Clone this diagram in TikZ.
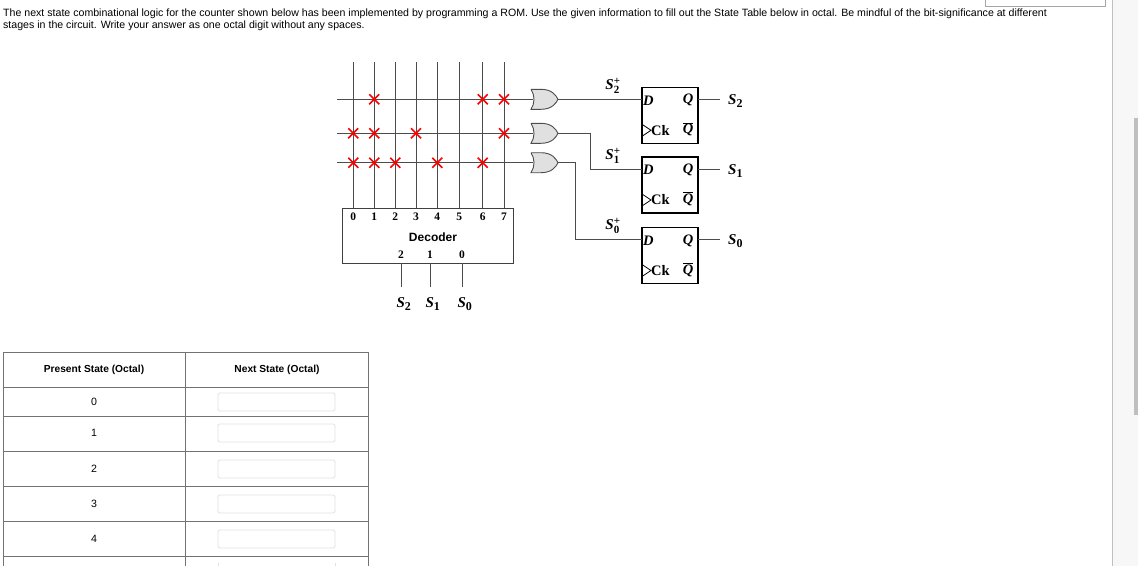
\documentclass[tikz,border=0pt]{standalone}
\usepackage{fontspec}
\setmainfont{Liberation Sans}
\newfontfamily\serifb{Liberation Serif}
\begin{document}
\begin{tikzpicture}[x=1pt,y=-1pt,
  wire/.style={draw=black!70,line width=0.9pt},
  xmark/.style={draw=red,line width=1.6pt},
  ffbox/.style={draw=black,line width=1.2pt,minimum width=56pt,minimum height=56pt,inner sep=0pt},
  cell/.style={draw=black!55,line width=0.8pt},
  inbox/.style={draw=black!12,rounded corners=1.5pt,line width=0.8pt},
  txt/.style={font=\fontsize{10.6}{12}\selectfont,inner sep=0pt},
  sv/.style={font=\serifb\bfseries\itshape\fontsize{15}{16}\selectfont,inner sep=0pt},
  ffl/.style={font=\serifb\bfseries\itshape\fontsize{14.5}{14}\selectfont,inner sep=0pt},
  dnum/.style={font=\serifb\bfseries\fontsize{11.5}{12}\selectfont,inner sep=0pt}]
\useasboundingbox (0,0) rectangle (1138,566);
% top-right and scrollbar
\draw[black!35] (985,0) -- (985,6) -- (1105,6) -- (1105,0);
\fill[black!3] (1112,0) rectangle (1138,566);
\draw[black!25] (1112,0) -- (1112,566);
\fill[black!25] (1134,118) rectangle (1138,415);
% question text
\node[txt,anchor=north west,align=left] (q) at (3,9)
 {The next state combinational logic for the counter shown below has been implemented by programming a ROM. Use the given information to fill out the State Table below in octal. Be mindful of the bit-significance at different\\ stages in the circuit. Write your answer as one octal digit without any spaces.};
% decoder
\node[draw=black!75,line width=1pt,minimum width=171pt,minimum height=55pt,inner sep=0pt] (dec) at (428,236) {};
\node[font=\bfseries\fontsize{12}{14}\selectfont] (dlab) at (433,237) {Decoder};
\foreach \i/\x in {0/353.3,1/374.3,2/395.3,3/416,4/437.3,5/459.3,6/482.7,7/504}{
  \coordinate (c\i) at (\x,62);
  \node[dnum] (n\i) at (\x,217) {\i};
  \draw[wire] (c\i) -- (\x,208.3);
}
\foreach \k/\x in {2/401,1/430,0/462}{
  \node[dnum] (in\k) at (\x,255) {\k};
  \coordinate (b\k) at (\x,263.3);
  \coordinate (e\k) at (\x,287);
  \draw[wire] (b\k) -- (e\k);
}
\node[sv] (l2) at (404,304) {S\textsubscript{\upshape\fontsize{12}{12}\selectfont 2}};
\node[sv] (l1) at (433,304) {S\textsubscript{\upshape\fontsize{12}{12}\selectfont 1}};
\node[sv] (l0) at (465,304) {S\textsubscript{\upshape\fontsize{12}{12}\selectfont 0}};
% rows and OR gates
\foreach \r/\y in {2/99.3,1/133.3,0/162.7}{
  \coordinate (r\r) at (337,\y);
  \coordinate (g\r) at (533,\y);
  \draw[wire] (r\r) -- (g\r);
  \filldraw[fill=black!12,draw=black!70,line width=0.9pt] (531,\y-10) -- (541,\y-10) .. controls (552,\y-10) and (556,\y-4) .. (558,\y) .. controls (556,\y+4) and (552,\y+10) .. (541,\y+10) -- (531,\y+10) .. controls (535,\y+4) and (535,\y-4) .. (531,\y-10);
  \coordinate (o\r) at (558,\y);
}
% crosses
\foreach \x/\y in {374.3/99.3,482.7/99.3,504/99.3, 353.3/133.3,374.3/133.3,416/133.3,504/133.3, 353.3/162.7,374.3/162.7,395.3/162.7,437.3/162.7,482.7/162.7}{
  \draw[xmark] (\x-5,\y-5) -- (\x+5,\y+5) (\x-5,\y+5) -- (\x+5,\y-5);
}
% flip-flops
\foreach \k/\y in {2/115.3,1/185,0/255.5}{
  \node[ffbox] (ff\k) at (670,\y) {};
  \node[ffl,anchor=west] (d\k) at (643,\y-15) {D};
  \node[ffl] (q\k) at (688,\y-15) {Q};
  \node[font=\serifb\bfseries\fontsize{14.5}{14}\selectfont,anchor=west,inner sep=0pt] (ck\k) at (651,\y+15) {Ck};
  \node[ffl] (qb\k) at (688,\y+14) {$\overline{\hbox{\serifb\bfseries\itshape Q}}$};
  \draw[line width=0.8pt] (642,\y+9) -- (651,\y+15) -- (642,\y+21);
  \coordinate (D\k) at (642,\y-16);
  \coordinate (Q\k) at (698,\y-16);
  \coordinate (Qe\k) at (720,\y-16);
  \draw[wire] (Q\k) -- (Qe\k);
  \node[sv,anchor=west] (s\k) at (728,\y-14) {S\textsubscript{\upshape\fontsize{12}{12}\selectfont\k}};
}
\draw[wire] (o2) -- (D2);
\draw[wire] (o1) -- (590,133.3) |- (D1);
\draw[wire] (o0) -- (575,162.7) |- (D0);
\node[sv] (p2) at (613,86) {S$^{\hbox{\upshape\fontsize{11}{11}\selectfont +}}_{\hbox{\upshape\fontsize{11}{11}\selectfont 2}}$};
\node[sv] (p1) at (613,156) {S$^{\hbox{\upshape\fontsize{11}{11}\selectfont +}}_{\hbox{\upshape\fontsize{11}{11}\selectfont 1}}$};
\node[sv] (p0) at (613,226) {S$^{\hbox{\upshape\fontsize{11}{11}\selectfont +}}_{\hbox{\upshape\fontsize{11}{11}\selectfont 0}}$};
% table
\foreach \y in {352,387.3,416.3,451.7,486.7,521.7,556.7}{ \draw[cell] (3,\y) -- (368,\y); }
\draw[cell] (3,352) -- (3,566) (185,352) -- (185,566) (368,352) -- (368,566);
\node[txt,font=\bfseries\fontsize{10.2}{12}\selectfont] (h1) at (94,370) {Present State (Octal)};
\node[txt,font=\bfseries\fontsize{10.2}{12}\selectfont] (h2) at (277,370) {Next State (Octal)};
\foreach \v/\y in {0/402,1/433,2/469,3/504,4/539}{
  \node[txt] (v\v) at (94,\y) {\v};
  \draw[inbox] (218,\y-9) rectangle (335,\y+9);
}
\draw[inbox] (218,563) -- (218,566) (335,563) -- (335,566);
\end{tikzpicture}
\end{document}
